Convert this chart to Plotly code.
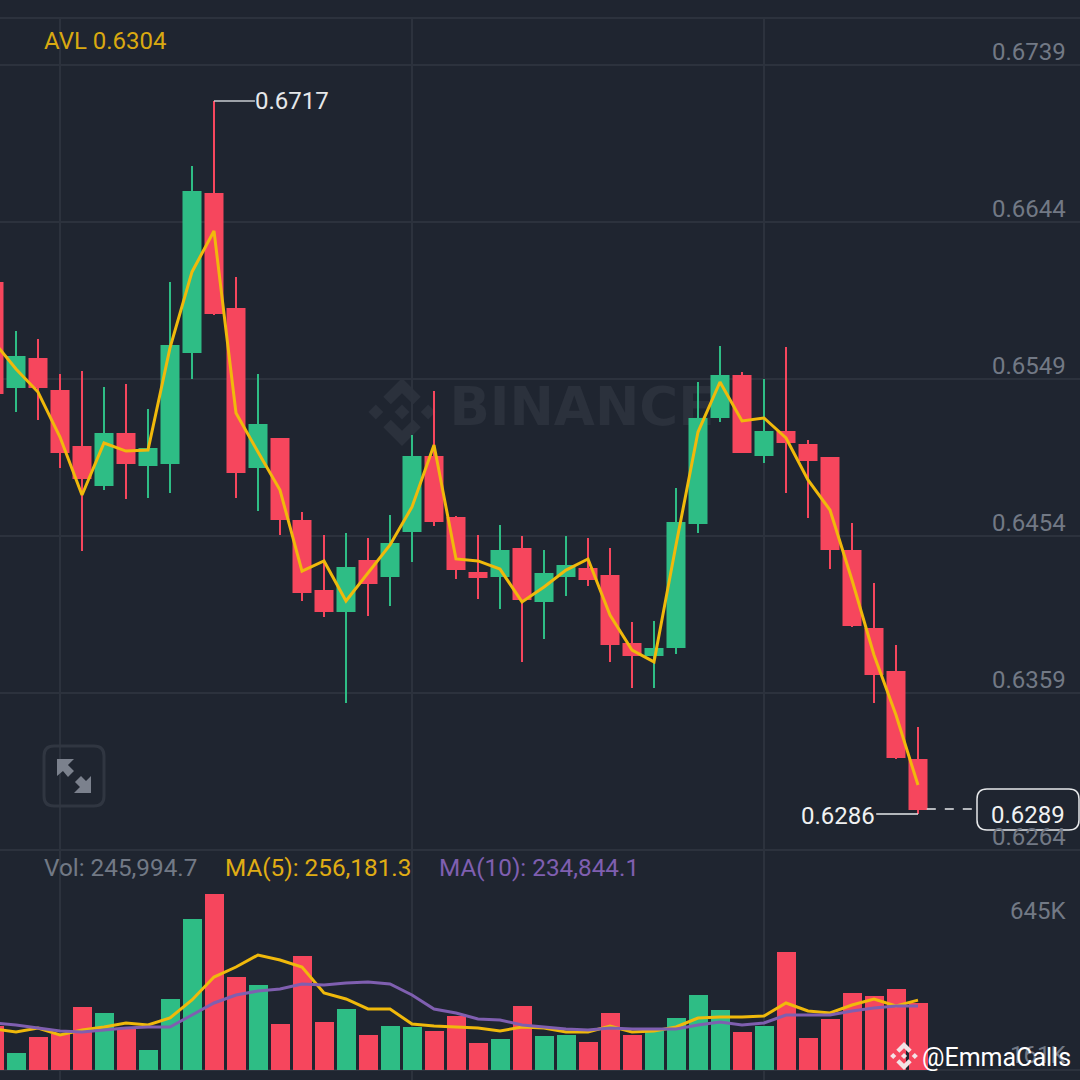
import plotly.graph_objects as go

# candle data, oldest first
opens = [0.66071, 0.65442, 0.65611, 0.65417, 0.65079, 0.64849, 0.65157, 0.64970, 0.64982, 0.65653, 0.66610,
         0.65914, 0.64958, 0.65127, 0.64631, 0.64207, 0.64086, 0.64389, 0.64298, 0.64570, 0.65018, 0.64649,
         0.64316, 0.64298, 0.64461, 0.64147, 0.64298, 0.64340, 0.64298, 0.63887, 0.63820, 0.63868, 0.64619,
         0.65260, 0.65508, 0.65030, 0.65169, 0.65091, 0.65012, 0.64449, 0.63977, 0.63717, 0.63185]
highs = [0.66071, 0.65780, 0.65732, 0.65520, 0.65539, 0.65442, 0.65460, 0.65309, 0.66077, 0.66779, 0.67172,
         0.66107, 0.65520, 0.65127, 0.64685, 0.64546, 0.64558, 0.64528, 0.64667, 0.65151, 0.65417, 0.64661,
         0.64546, 0.64607, 0.64540, 0.64455, 0.64540, 0.64528, 0.64468, 0.64020, 0.64026, 0.64831, 0.65472,
         0.65690, 0.65532, 0.65490, 0.65684, 0.65121, 0.65012, 0.64619, 0.64256, 0.63880, 0.63384]
lows = [0.65405, 0.65290, 0.65242, 0.64952, 0.64449, 0.64818, 0.64764, 0.64770, 0.64800, 0.65490, 0.65877,
        0.64770, 0.64691, 0.64546, 0.64147, 0.64050, 0.63530, 0.64056, 0.64117, 0.64383, 0.64601, 0.64280,
        0.64159, 0.64098, 0.63778, 0.63917, 0.64177, 0.64238, 0.63778, 0.63620, 0.63620, 0.63826, 0.64558,
        0.65230, 0.65048, 0.64982, 0.64800, 0.64649, 0.64340, 0.63989, 0.63530, 0.63191, 0.62858]
closes = [0.65405, 0.65623, 0.65442, 0.65048, 0.64891, 0.65157, 0.64982, 0.65067, 0.65690, 0.66622, 0.65889,
          0.64927, 0.65212, 0.64643, 0.64201, 0.64086, 0.64346, 0.64256, 0.64492, 0.65018, 0.64631, 0.64340,
          0.64292, 0.64449, 0.64159, 0.64310, 0.64359, 0.64280, 0.63887, 0.63820, 0.63856, 0.64619, 0.65248,
          0.65508, 0.65048, 0.65169, 0.65109, 0.65000, 0.64461, 0.64002, 0.63705, 0.63203, 0.62888]
avl = [0.65714, 0.65551, 0.65411, 0.65139, 0.64788, 0.65103, 0.65054, 0.65060, 0.65678, 0.66138, 0.66386,
       0.65284, 0.65048, 0.64818, 0.64328, 0.64389, 0.64147, 0.64316, 0.64486, 0.64716, 0.65091, 0.64401,
       0.64389, 0.64340, 0.64141, 0.64232, 0.64334, 0.64401, 0.64062, 0.63850, 0.63778, 0.64486, 0.65169,
       0.65472, 0.65236, 0.65254, 0.65133, 0.64879, 0.64697, 0.64274, 0.63820, 0.63457, 0.63033]

volumes = [161300, 62300, 120900, 131900, 230900, 208900, 153900, 73300, 260200, 553400, 645000,
           340800, 311500, 168600, 417800, 175900, 223600, 128300, 161300, 157600, 142900, 197900,
           99000, 113600, 234600, 124600, 128300, 102600, 208900, 128300, 142900, 190600, 274900,
           219900, 139300, 161300, 432500, 117300, 186900, 282200, 271200, 296900, 245994.7]
vol_ma5 = [150300, 139300, 153900, 128300, 146600, 157600, 172300, 164900, 190600, 256600, 340800,
           377500, 421500, 403200, 377500, 282200, 260200, 223600, 223600, 168600, 161300, 157600,
           153900, 142900, 157600, 153900, 139300, 139300, 161300, 139300, 142900, 157600, 190600,
           194200, 194200, 197900, 245600, 216200, 208900, 238200, 260200, 234600, 256181.3]
vol_ma10 = [172300, 164900, 153900, 142900, 139300, 146600, 153900, 157600, 157600, 201600, 245600,
            274900, 289500, 296900, 315200, 311500, 318900, 322500, 315200, 274900, 223600, 208900,
            186900, 183300, 164900, 157600, 150300, 146600, 153900, 150300, 150300, 150300, 164900,
            175900, 164900, 172300, 201600, 201600, 201600, 216200, 227200, 234600, 234844.1]

price_ticks = [0.6739, 0.6644, 0.6549, 0.6454, 0.6359, 0.6264]
candles = list(range(len(closes)))

BG = "#1f2530"
GRID = "#2c323d"
LABEL = "#727985"
GREEN = "#2ebd85"
RED = "#f6465d"
YELLOW = "#f0b90b"
PURPLE = "#7f5fb0"
FONT = "Roboto"

# 22px per candle, candle 0 centred 6px left of the frame
x_range = [0.2727, 49.3636]
price_range = [0.6264, 0.676745]
vol_range = [-36650, 806300]


def px(x, y):
    return x / 1080, 1 - y / 1080


def path(points):
    parts = []
    for i, (x, y) in enumerate(points):
        a, b = px(x, y)
        parts.append(("M" if i == 0 else "L") + f"{a:.5f},{b:.5f}")
    return " ".join(parts) + " Z"


def logo(cx, cy, r, color, layer):
    # the diamond mark, top and bottom chevrons plus three small squares
    out = []
    top = [(0, -1), (.55, -.45), (.33, -.23), (0, -.55), (-.33, -.23), (-.55, -.45)]
    for sign in (1, -1):
        pts = [(cx + a * r, cy + sign * b * r) for a, b in top]
        out.append(dict(type="path", path=path(pts), xref="paper", yref="paper",
                        fillcolor=color, line_width=0, layer=layer))
    for off in (-.77, 0, .77):
        pts = [(cx + (off + a) * r, cy + b * r) for a, b in [(0, -.22), (.22, 0), (0, .22), (-.22, 0)]]
        out.append(dict(type="path", path=path(pts), xref="paper", yref="paper",
                        fillcolor=color, line_width=0, layer=layer))
    return out


fig = go.Figure()

# watermark sits on the base axes so the candles on the overlay axes cover it
fig.add_trace(go.Scatter(x=[20.7], y=[0.6529], mode="text", text=["BINANCE"], textposition="middle right",
                         textfont=dict(family="DejaVu Sans", size=53, color="#2b313c", weight="bold"),
                         hoverinfo="skip", xaxis="x", yaxis="y"))

fig.add_trace(go.Candlestick(x=candles, open=opens, high=highs, low=lows, close=closes,
                             increasing=dict(line=dict(color=GREEN, width=2), fillcolor=GREEN),
                             decreasing=dict(line=dict(color=RED, width=2), fillcolor=RED),
                             whiskerwidth=0, xaxis="x3", yaxis="y3"))
fig.add_trace(go.Scatter(x=candles, y=avl, mode="lines", line=dict(color=YELLOW, width=3),
                         xaxis="x3", yaxis="y3"))

bar_colors = [GREEN if c >= o else RED for o, c in zip(opens, closes)]
fig.add_trace(go.Bar(x=candles, y=volumes, marker=dict(color=bar_colors, line_width=0), width=0.864,
                     xaxis="x2", yaxis="y2"))
fig.add_trace(go.Scatter(x=candles, y=vol_ma5, mode="lines", line=dict(color=YELLOW, width=3),
                         xaxis="x2", yaxis="y2"))
fig.add_trace(go.Scatter(x=candles, y=vol_ma10, mode="lines", line=dict(color=PURPLE, width=3),
                         xaxis="x2", yaxis="y2"))

shapes = []
shapes += logo(402, 412, 34, "#2b313c", "below")
shapes += logo(904, 1056, 14, "#f3e3e6", "above")

# top border and the line between the panes
for y in (18, 850):
    a, b = px(0, y)
    shapes.append(dict(type="line", xref="paper", yref="paper", x0=0, x1=1, y0=b, y1=b,
                       line=dict(color=GRID, width=2), layer="below"))

# expand button
sx, sy = px(44, 746)
ex, ey = px(104, 806)
r = 10 / 1080
shapes.append(dict(type="path", xref="paper", yref="paper", line=dict(color="#303641", width=3),
                   path=f"M{sx + r},{sy} L{ex - r},{sy} Q{ex},{sy} {ex},{sy - r} L{ex},{ey + r} "
                        f"Q{ex},{ey} {ex - r},{ey} L{sx + r},{ey} Q{sx},{ey} {sx},{ey + r} "
                        f"L{sx},{sy - r} Q{sx},{sy} {sx + r},{sy} Z"))
nw = [(57, 759), (74, 759), (68, 765), (74, 771), (68, 777), (63, 771), (57, 776)]
se = [(91, 793), (74, 793), (80, 787), (75, 782), (81, 776), (86, 781), (91, 776)]
for arrow in (nw, se):
    shapes.append(dict(type="path", xref="paper", yref="paper", path=path(arrow),
                       fillcolor="#7b818d", line_width=0))

# high and low leader lines
shapes.append(dict(type="line", xref="x3", yref="y3", x0=10, x1=11.86, y0=highs[10], y1=highs[10],
                   line=dict(color="#c9ccd1", width=1.5)))
shapes.append(dict(type="line", xref="x3", yref="y3", x0=40.1, x1=42, y0=lows[42], y1=lows[42],
                   line=dict(color="#e6e8ea", width=1.5)))
# last price line and its box
shapes.append(dict(type="line", xref="x3", yref="y3", x0=42.4, x1=44.7, y0=closes[42], y1=closes[42],
                   line=dict(color="#e6e8ea", width=1.5, dash="dash")))
sx, sy = px(977, 789)
ex, ey = px(1079, 830)
shapes.append(dict(type="path", xref="paper", yref="paper", fillcolor=BG, line=dict(color="#e6e8ea", width=1.5),
                   path=f"M{sx + r},{sy} L{ex - r},{sy} Q{ex},{sy} {ex},{sy - r} L{ex},{ey + r} "
                        f"Q{ex},{ey} {ex - r},{ey} L{sx + r},{ey} Q{sx},{ey} {sx},{ey + r} "
                        f"L{sx},{sy - r} Q{sx},{sy} {sx + r},{sy} Z"))


def note(text, x, y, color, size=24.3, anchor="left", family=FONT):
    a, b = px(x, y)
    return dict(text=text, x=a, y=b, xref="paper", yref="paper", xanchor=anchor, yanchor="middle",
                showarrow=False, font=dict(family=family, size=size, color=color))


notes = [
    note("AVL 0.6304", 42, 41, "#d9a911", size=24),
    note("Vol: 245,994.7", 42, 867, LABEL),
    note("MA(5): 256,181.3", 223, 867, "#e0ad14"),
    note("MA(10): 234,844.1", 437, 867, PURPLE),
    note("645K", 1068, 911, LABEL, size=24, anchor="right"),
    note("161K", 1068, 1055, LABEL, size=24, anchor="right"),
    note("0.6289", 1028, 815, "#f0f1f2", size=24, anchor="center"),
    note("@EmmaCalls", 920, 1057, "#ffffff", size=25),
]
for t in price_ticks:
    notes.append(dict(text=f"{t:.4f}", x=1068 / 1080, y=t, xref="paper", yref="y", xanchor="right",
                      yanchor="bottom", yshift=-3, showarrow=False, font=dict(family=FONT, size=24, color=LABEL)))
notes.append(dict(text=f"{highs[10]:.4f}", x=10, y=highs[10], xref="x3", yref="y3", xanchor="left", yanchor="middle",
                  xshift=39, showarrow=False, font=dict(family=FONT, size=24, color="#e6e8ea")))
notes.append(dict(text=f"{lows[42]:.4f}", x=42, y=lows[42], xref="x3", yref="y3", xanchor="right", yanchor="middle",
                  xshift=-41, yshift=-2, showarrow=False, font=dict(family=FONT, size=24, color="#f0f1f2")))

fig.update_layout(
    width=1080, height=1080, margin=dict(l=0, r=0, t=0, b=0),
    paper_bgcolor=BG, plot_bgcolor=BG, showlegend=False, boxgap=0.227, boxgroupgap=0, bargap=0,
    shapes=shapes, annotations=notes,
    xaxis=dict(domain=[0, 1], range=x_range, tick0=3, dtick=16, showgrid=True, gridcolor=GRID, gridwidth=1.5,
               showticklabels=False, zeroline=False, ticks=""),
    yaxis=dict(domain=[230 / 1080, 1062 / 1080], range=price_range, tickvals=price_ticks, showgrid=True,
               gridcolor=GRID, gridwidth=1.5, showticklabels=False, zeroline=False, ticks=""),
    xaxis2=dict(domain=[0, 1], range=x_range, anchor="y2", tick0=3, dtick=16, showgrid=True, gridcolor=GRID,
                gridwidth=1.5, showticklabels=False, zeroline=False, ticks=""),
    yaxis2=dict(domain=[0, 230 / 1080], range=vol_range, tickvals=[0], showgrid=True, gridcolor=GRID, gridwidth=1.5,
                showticklabels=False, zeroline=False, ticks=""),
    xaxis3=dict(range=x_range, overlaying="x", anchor="y3", visible=False, rangeslider=dict(visible=False)),
    yaxis3=dict(range=price_range, overlaying="y", anchor="x3", visible=False),
)

fig.write_html("out.html", post_script="document.body.style.margin='0';", config=dict(displayModeBar=False))
